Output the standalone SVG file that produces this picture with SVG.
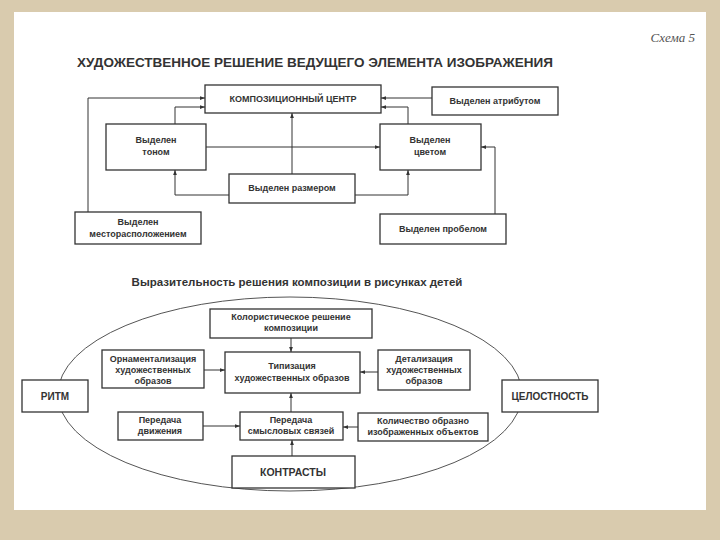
<svg xmlns="http://www.w3.org/2000/svg" width="720" height="540" viewBox="0 0 720 540">
<defs>
<marker id="a" viewBox="0 0 8 8" refX="8" refY="4" markerWidth="5" markerHeight="5" orient="auto"><path d="M0,1 L8,4 L0,7 z" fill="#333"/></marker>
<style>
.b{fill:#fff;stroke:#333;stroke-width:1.3}
.t{font-family:"Liberation Sans",Arial,sans-serif;font-weight:bold;font-size:9px;fill:#333;text-anchor:middle}
.c line,.c polyline{fill:none;stroke:#333;stroke-width:1;marker-end:url(#a)}
</style>
</defs>
<rect width="720" height="540" fill="#d9cbae"/>
<rect x="14" y="12" width="692" height="498" fill="#fff"/>
<text x="695" y="42" style="font-family:'Liberation Serif',serif;font-style:italic;font-size:13px;fill:#555;text-anchor:end">Схема 5</text>
<text x="315" y="67" class="t" style="font-size:13.5px">ХУДОЖЕСТВЕННОЕ РЕШЕНИЕ ВЕДУЩЕГО ЭЛЕМЕНТА ИЗОБРАЖЕНИЯ</text>
<g class="c">
<polyline points="88,212 88,98 205,98"/>
<polyline points="175,124 175,107 205,107"/>
<line x1="206" y1="147" x2="380" y2="147"/>
<line x1="292" y1="174" x2="292" y2="113"/>
<polyline points="229,195 175,195 175,170"/>
<polyline points="355,195 408,195 408,170"/>
<polyline points="408,124 408,107 381,107"/>
<line x1="432" y1="98" x2="381" y2="98"/>
<polyline points="495,214 495,147 481,147"/>
<line x1="291" y1="338" x2="291" y2="352"/>
<line x1="204" y1="370" x2="225" y2="370"/>
<line x1="378" y1="372" x2="360" y2="372"/>
<line x1="291" y1="412" x2="291" y2="393"/>
<line x1="203" y1="426" x2="240" y2="426"/>
<line x1="358" y1="427" x2="343" y2="427"/>
<line x1="292" y1="456" x2="292" y2="440"/>
</g>
<g id="n1"><rect class="b" x="205" y="85" width="176" height="28"/><text class="t" x="293" y="102">КОМПОЗИЦИОННЫЙ ЦЕНТР</text></g>
<g id="n2"><rect class="b" x="432" y="87" width="126" height="28"/><text class="t" x="495" y="104">Выделен атрибутом</text></g>
<g id="n3"><rect class="b" x="106" y="124" width="100" height="46"/><text class="t" x="156" y="143">Выделен</text><text class="t" x="156" y="155">тоном</text></g>
<g id="n4"><rect class="b" x="380" y="124" width="101" height="46"/><text class="t" x="430" y="143">Выделен</text><text class="t" x="430" y="155">цветом</text></g>
<g id="n5"><rect class="b" x="229" y="174" width="126" height="29"/><text class="t" x="292" y="191">Выделен размером</text></g>
<g id="n6"><rect class="b" x="75" y="212" width="126" height="32"/><text class="t" x="138" y="225">Выделен</text><text class="t" x="138" y="237">месторасположением</text></g>
<g id="n7"><rect class="b" x="380" y="214" width="126" height="30"/><text class="t" x="443" y="232">Выделен пробелом</text></g>
<text x="297" y="286" class="t" style="font-size:11.5px">Выразительность решения композиции в рисунках детей</text>
<ellipse cx="290" cy="394" rx="232" ry="97" fill="none" stroke="#555" stroke-width="1"/>
<g id="m1"><rect class="b" x="210" y="309" width="162" height="29"/><text class="t" x="291" y="320">Колористическое решение</text><text class="t" x="291" y="331">композиции</text></g>
<g id="m2"><rect class="b" x="102" y="350" width="102" height="38"/><text class="t" x="153" y="362">Орнаментализация</text><text class="t" x="153" y="373">художественных</text><text class="t" x="153" y="384">образов</text></g>
<g id="m3"><rect class="b" x="225" y="352" width="135" height="41"/><text class="t" x="292" y="369">Типизация</text><text class="t" x="292" y="381">художественных образов</text></g>
<g id="m4"><rect class="b" x="378" y="350" width="92" height="40"/><text class="t" x="424" y="362">Детализация</text><text class="t" x="424" y="373">художественных</text><text class="t" x="424" y="384">образов</text></g>
<g id="m5"><rect class="b" x="22" y="380" width="66" height="32"/><text class="t" x="55" y="400" style="font-size:10px">РИТМ</text></g>
<g id="m6"><rect class="b" x="502" y="380" width="96" height="32"/><text class="t" x="550" y="400" style="font-size:10px">ЦЕЛОСТНОСТЬ</text></g>
<g id="m7"><rect class="b" x="118" y="412" width="85" height="28"/><text class="t" x="160" y="423">Передача</text><text class="t" x="160" y="434">движения</text></g>
<g id="m8"><rect class="b" x="240" y="412" width="103" height="28"/><text class="t" x="291" y="423">Передача</text><text class="t" x="291" y="434">смысловых связей</text></g>
<g id="m9"><rect class="b" x="358" y="413" width="130" height="28"/><text class="t" x="423" y="424">Количество образно</text><text class="t" x="423" y="435">изображенных объектов</text></g>
<g id="m10"><rect class="b" x="232" y="456" width="123" height="32"/><text class="t" x="293" y="476" style="font-size:10.5px">КОНТРАСТЫ</text></g>
</svg>
